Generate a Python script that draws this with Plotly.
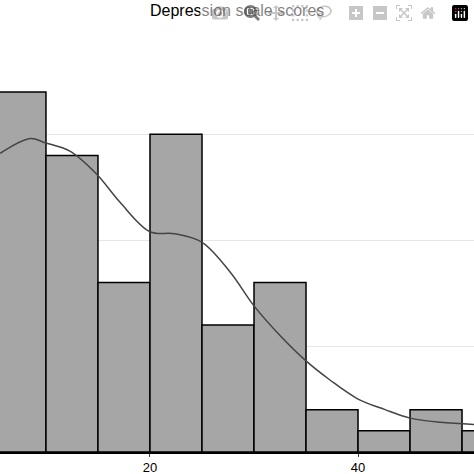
import plotly.graph_objects as go

bin_starts = [5, 10, 15, 20, 25, 30, 35, 40, 45, 50]
counts = [17, 14, 8, 15, 6, 8, 2, 1, 2, 1]

dens_x = [5.6, 8.5, 9.9, 12.3, 14.9, 17.1, 20.0, 22.4, 25.0, 27.7, 30.0, 32.5, 35.0, 37.3, 40.0, 42.6, 45.0, 47.9, 51.2]
dens_y = [14.1, 14.8, 14.6, 14.2, 13.1, 11.8, 10.4, 10.3, 9.9, 8.5, 6.9, 5.5, 4.3, 3.4, 2.5, 2.0, 1.6, 1.4, 1.3]

fig = go.Figure()
fig.add_trace(go.Bar(x=[b + 2.5 for b in bin_starts], y=counts, width=5,
                     marker=dict(color="#a6a6a6", line=dict(color="black", width=1.5))))
fig.add_trace(go.Scatter(x=dens_x, y=dens_y, mode="lines", line=dict(color="#444444", width=1.5, shape="spline")))

fig.update_layout(
    width=474, height=474, showlegend=False,
    margin=dict(l=0, r=0, t=22, b=22),
    plot_bgcolor="white", paper_bgcolor="white",
    font=dict(family="Liberation Sans", size=13, color="black"),
    annotations=[dict(text="Depression scale scores", x=0.5, y=1, xref="paper", yref="paper",
                      yanchor="bottom", yshift=1, showarrow=False, font=dict(size=16))],
)
fig.update_xaxes(range=[5.58, 51.15], tickvals=[20, 40], ticks="outside", ticklen=3,
                 showline=True, linecolor="black", linewidth=1.5, showgrid=False, zeroline=False)
fig.update_yaxes(range=[0, 20.3], tickvals=[5, 10, 15], showticklabels=False,
                 showgrid=True, gridcolor="#e6e6e6", zeroline=False)

fig.write_html("out.html", post_script="document.body.style.margin='0';")
